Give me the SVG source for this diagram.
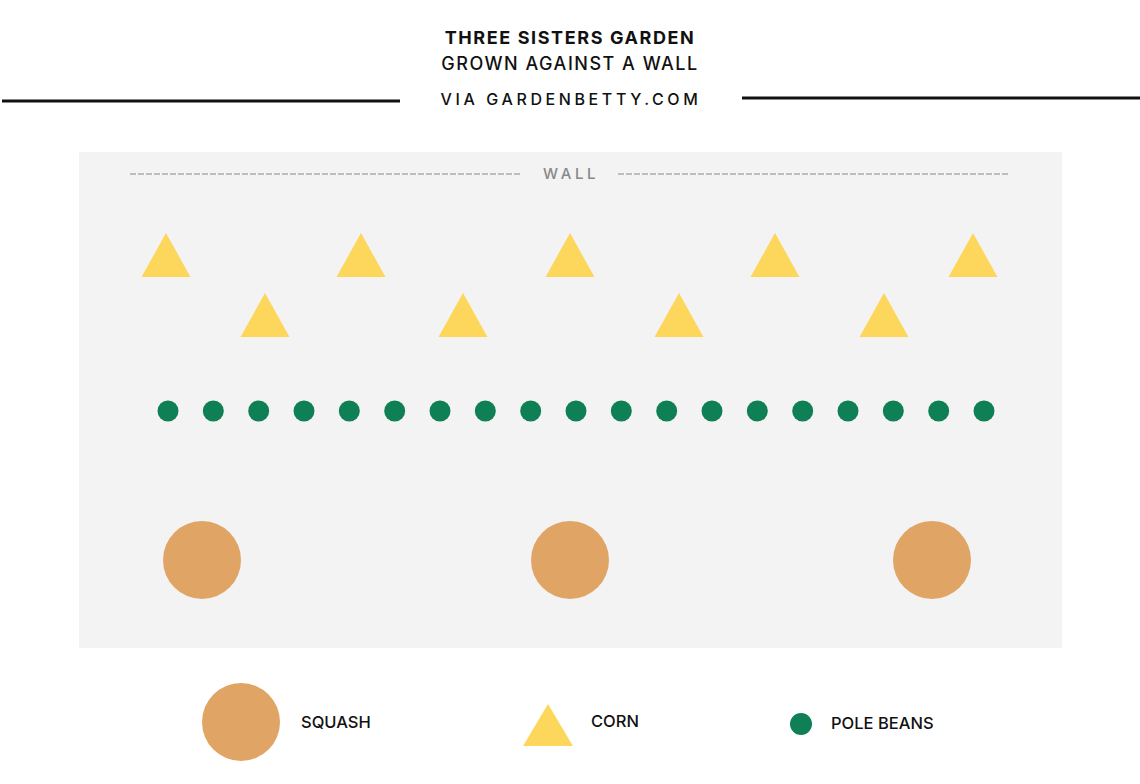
<svg xmlns="http://www.w3.org/2000/svg" width="1140" height="784" viewBox="0 0 1140 784">
<style>
.t{font-family:Inter,"Open Sans","Liberation Sans",sans-serif;fill:#111;}
.corn{fill:#fdd75c;}
.bean{fill:#0f7f55;}
.squash{fill:#e0a465;}
.rule{stroke:#111;stroke-width:3;}
.wall{stroke:#aaa;stroke-width:1.5;stroke-dasharray:6 2;}
</style>
<defs>
<polygon id="tri" points="0,-22 24.5,22 -24.5,22"/>
</defs>
<rect width="1140" height="784" fill="#fff"/>
<g id="header">
<text class="t" x="570" y="44" text-anchor="middle" font-size="18" font-weight="700" letter-spacing="1.6">THREE SISTERS GARDEN</text>
<text class="t" x="570" y="70" text-anchor="middle" font-size="18" font-weight="500" letter-spacing="1.5">GROWN AGAINST A WALL</text>
<text class="t" x="571" y="105" text-anchor="middle" font-size="16" font-weight="500" letter-spacing="3.6">VIA GARDENBETTY.COM</text>
<line class="rule" x1="2" y1="101" x2="400" y2="101"/>
<line class="rule" x1="742" y1="98" x2="1140" y2="98"/>
</g>
<g id="bed">
<rect x="79" y="152" width="983" height="496" fill="#f3f3f3"/>
<line class="wall" x1="130" y1="174" x2="522" y2="174"/>
<line class="wall" x1="618" y1="174" x2="1010" y2="174"/>
<text x="571" y="179" text-anchor="middle" font-family="Inter,'Open Sans','Liberation Sans',sans-serif" font-size="15" font-weight="500" letter-spacing="3.6" fill="#888">WALL</text>
</g>
<g id="corn">
<use href="#tri" class="corn" x="166" y="255"/>
<use href="#tri" class="corn" x="361" y="255"/>
<use href="#tri" class="corn" x="570" y="255"/>
<use href="#tri" class="corn" x="775" y="255"/>
<use href="#tri" class="corn" x="973" y="255"/>
<use href="#tri" class="corn" x="265" y="315"/>
<use href="#tri" class="corn" x="463" y="315"/>
<use href="#tri" class="corn" x="679" y="315"/>
<use href="#tri" class="corn" x="884" y="315"/>
</g>
<g id="beans" class="bean">
<circle cx="168" cy="411" r="10.5"/>
<circle cx="213.3" cy="411" r="10.5"/>
<circle cx="258.7" cy="411" r="10.5"/>
<circle cx="304" cy="411" r="10.5"/>
<circle cx="349.3" cy="411" r="10.5"/>
<circle cx="394.7" cy="411" r="10.5"/>
<circle cx="440" cy="411" r="10.5"/>
<circle cx="485.3" cy="411" r="10.5"/>
<circle cx="530.7" cy="411" r="10.5"/>
<circle cx="576" cy="411" r="10.5"/>
<circle cx="621.3" cy="411" r="10.5"/>
<circle cx="666.7" cy="411" r="10.5"/>
<circle cx="712" cy="411" r="10.5"/>
<circle cx="757.3" cy="411" r="10.5"/>
<circle cx="802.7" cy="411" r="10.5"/>
<circle cx="848" cy="411" r="10.5"/>
<circle cx="893.3" cy="411" r="10.5"/>
<circle cx="938.7" cy="411" r="10.5"/>
<circle cx="984" cy="411" r="10.5"/>
</g>
<g id="squash" class="squash">
<circle cx="202" cy="560" r="39"/>
<circle cx="570" cy="560" r="39"/>
<circle cx="932" cy="560" r="39"/>
</g>
<g id="legend-squash">
<circle class="squash" cx="241" cy="722" r="39"/>
<text class="t" x="301" y="728" font-size="16.5" font-weight="500">SQUASH</text>
</g>
<g id="legend-corn">
<polygon class="corn" points="548,704 573,746 523,746"/>
<text class="t" x="591" y="727" font-size="16.5" font-weight="500">CORN</text>
</g>
<g id="legend-beans">
<circle class="bean" cx="801" cy="724" r="11"/>
<text class="t" x="831" y="729" font-size="16.5" font-weight="500">POLE BEANS</text>
</g>
</svg>
